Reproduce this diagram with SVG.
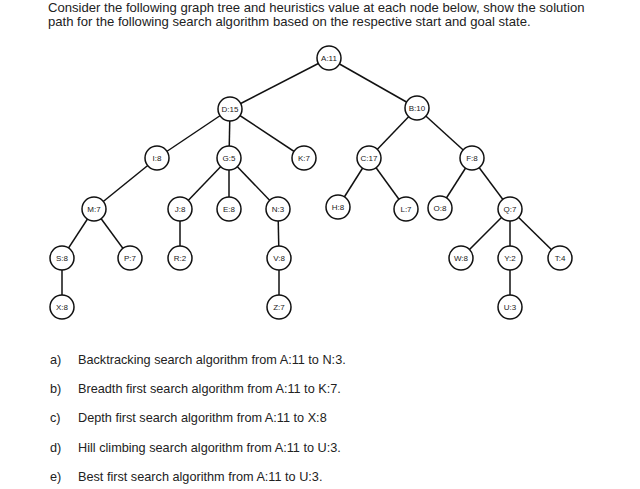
<svg xmlns="http://www.w3.org/2000/svg" width="640" height="489" viewBox="0 0 640 489">
<style>
text{font-family:"Liberation Sans",Arial,sans-serif;fill:#222}
.t{font-size:12px}
.h{font-size:13.1px}
.q{font-size:12.7px}
.n circle{fill:#fff;stroke:#111;stroke-width:1.5}
.n text{font-size:8px;text-anchor:middle;dominant-baseline:central}
#edges line{stroke:#111;stroke-width:1.5}
</style>
<rect width="640" height="489" fill="#fff"/>
<text class="h" x="48" y="12">Consider the following graph tree and heuristics value at each node below, show the solution</text>
<text class="h" x="48" y="26">path for the following search algorithm based on the respective start and goal state.</text>
<g id="edges">
<line x1="329" y1="58" x2="230" y2="109"/><line x1="329" y1="58" x2="417" y2="108"/>
<line x1="230" y1="109" x2="157" y2="158"/><line x1="230" y1="109" x2="229" y2="158"/><line x1="230" y1="109" x2="304" y2="158"/>
<line x1="417" y1="108" x2="369" y2="158"/><line x1="417" y1="108" x2="472" y2="158"/>
<line x1="157" y1="158" x2="94" y2="209"/>
<line x1="229" y1="158" x2="180" y2="209"/><line x1="229" y1="158" x2="229" y2="209"/><line x1="229" y1="158" x2="278" y2="209"/>
<line x1="369" y1="158" x2="338" y2="207"/><line x1="369" y1="158" x2="406" y2="209"/>
<line x1="472" y1="158" x2="440" y2="208"/><line x1="472" y1="158" x2="510" y2="209"/>
<line x1="94" y1="209" x2="62" y2="258"/><line x1="94" y1="209" x2="130" y2="258"/>
<line x1="180" y1="209" x2="180" y2="258"/><line x1="278" y1="209" x2="279" y2="258"/>
<line x1="510" y1="209" x2="461" y2="258"/><line x1="510" y1="209" x2="510" y2="258"/><line x1="510" y1="209" x2="560" y2="258"/>
<line x1="62" y1="258" x2="62" y2="307"/><line x1="279" y1="258" x2="279" y2="307"/><line x1="510" y1="258" x2="510" y2="307"/>
</g>
<g id="A" class="n"><circle cx="329" cy="58" r="12"/><text x="329" y="58">A:11</text></g>
<g id="D" class="n"><circle cx="230" cy="109" r="12"/><text x="230" y="109">D:15</text></g>
<g id="B" class="n"><circle cx="417" cy="108" r="12"/><text x="417" y="108">B:10</text></g>
<g id="I" class="n"><circle cx="157" cy="158" r="12"/><text x="157" y="158">I:8</text></g>
<g id="G" class="n"><circle cx="229" cy="158" r="12"/><text x="229" y="158">G:5</text></g>
<g id="K" class="n"><circle cx="304" cy="158" r="12"/><text x="304" y="158">K:7</text></g>
<g id="C" class="n"><circle cx="369" cy="158" r="12"/><text x="369" y="158">C:17</text></g>
<g id="F" class="n"><circle cx="472" cy="158" r="12"/><text x="472" y="158">F:8</text></g>
<g id="M" class="n"><circle cx="94" cy="209" r="12"/><text x="94" y="209">M:7</text></g>
<g id="J" class="n"><circle cx="180" cy="209" r="12"/><text x="180" y="209">J:8</text></g>
<g id="E" class="n"><circle cx="229" cy="209" r="12"/><text x="229" y="209">E:8</text></g>
<g id="N" class="n"><circle cx="278" cy="209" r="12"/><text x="278" y="209">N:3</text></g>
<g id="H" class="n"><circle cx="338" cy="207" r="12"/><text x="338" y="207">H:8</text></g>
<g id="L" class="n"><circle cx="406" cy="209" r="12"/><text x="406" y="209">L:7</text></g>
<g id="O" class="n"><circle cx="440" cy="208" r="12"/><text x="440" y="208">O:8</text></g>
<g id="Q" class="n"><circle cx="510" cy="209" r="12"/><text x="510" y="209">Q:7</text></g>
<g id="S" class="n"><circle cx="62" cy="258" r="12"/><text x="62" y="258">S:8</text></g>
<g id="P" class="n"><circle cx="130" cy="258" r="12"/><text x="130" y="258">P:7</text></g>
<g id="R" class="n"><circle cx="180" cy="258" r="12"/><text x="180" y="258">R:2</text></g>
<g id="V" class="n"><circle cx="279" cy="258" r="12"/><text x="279" y="258">V:8</text></g>
<g id="W" class="n"><circle cx="461" cy="258" r="12"/><text x="461" y="258">W:8</text></g>
<g id="Y" class="n"><circle cx="510" cy="258" r="12"/><text x="510" y="258">Y:2</text></g>
<g id="T" class="n"><circle cx="560" cy="258" r="12"/><text x="560" y="258">T:4</text></g>
<g id="X" class="n"><circle cx="62" cy="307" r="12"/><text x="62" y="307">X:8</text></g>
<g id="Z" class="n"><circle cx="279" cy="307" r="12"/><text x="279" y="307">Z:7</text></g>
<g id="U" class="n"><circle cx="510" cy="307" r="12"/><text x="510" y="307">U:3</text></g>
<text class="q" x="50" y="364">a)</text><text class="q" x="78" y="364">Backtracking search algorithm from A:11 to N:3.</text>
<text class="q" x="50" y="393">b)</text><text class="q" x="78" y="393">Breadth first search algorithm from A:11 to K:7.</text>
<text class="q" x="50" y="422">c)</text><text class="q" x="78" y="422">Depth first search algorithm from A:11 to X:8</text>
<text class="q" x="50" y="452">d)</text><text class="q" x="78" y="452">Hill climbing search algorithm from A:11 to U:3.</text>
<text class="q" x="50" y="481">e)</text><text class="q" x="78" y="481">Best first search algorithm from A:11 to U:3.</text>
</svg>
